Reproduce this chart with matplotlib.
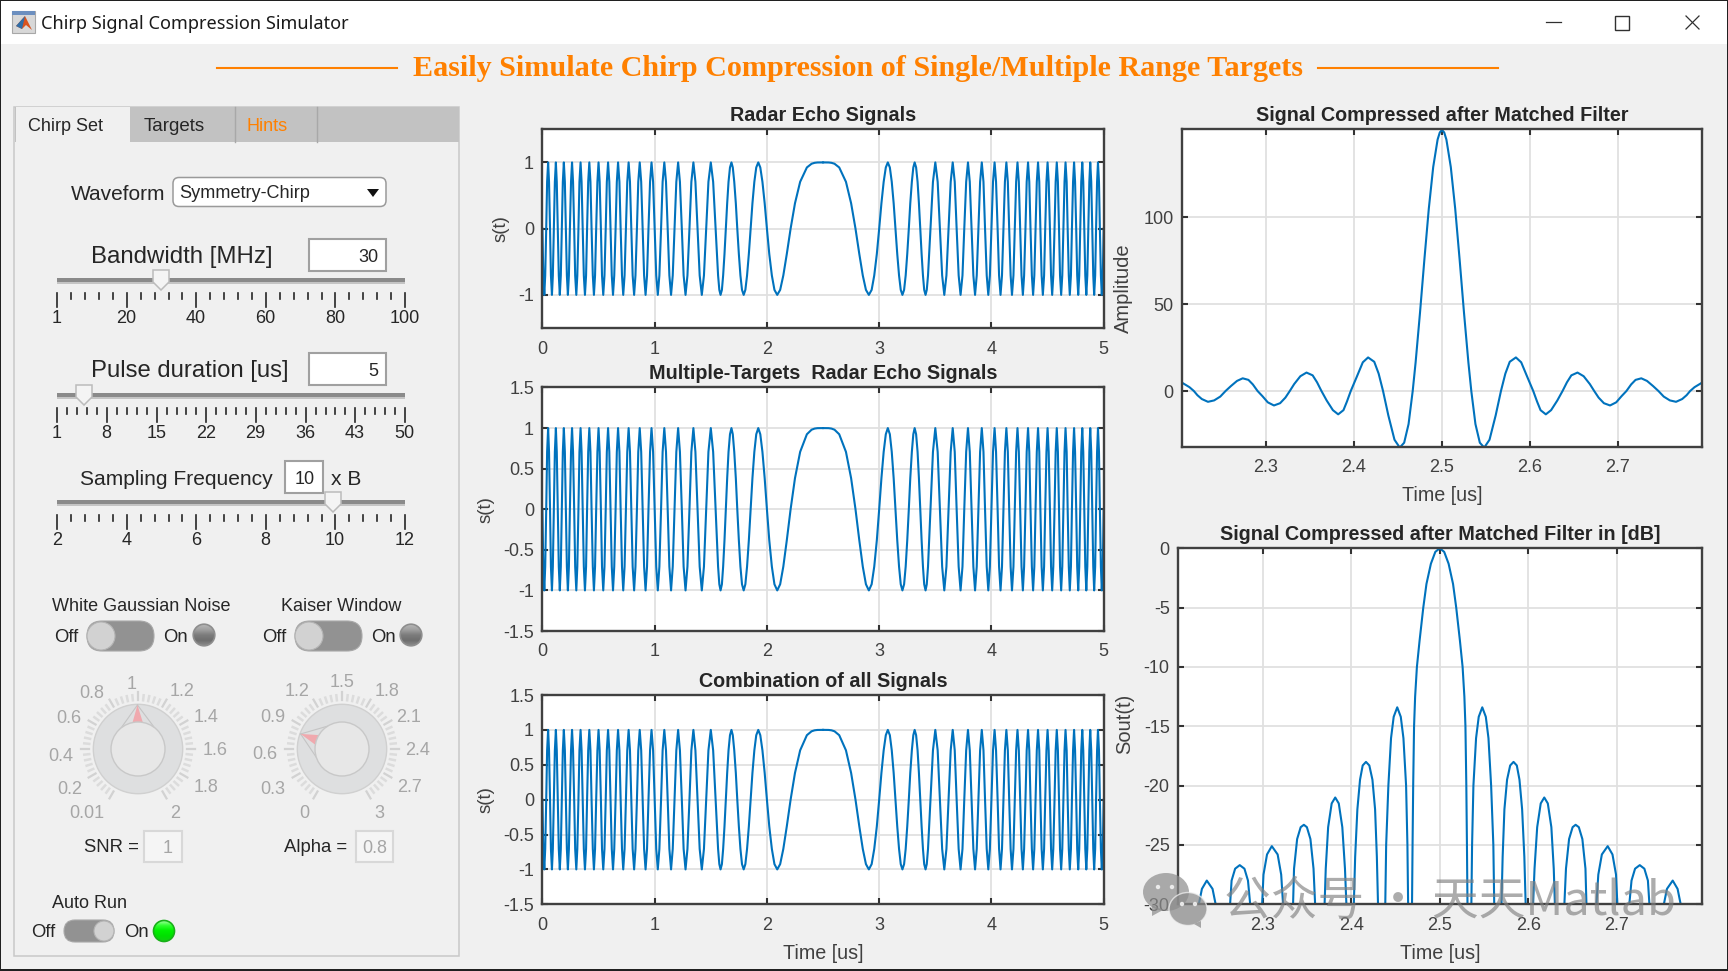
import numpy as np
import matplotlib
matplotlib.use("Agg")
import matplotlib.pyplot as plt
from matplotlib.colors import LinearSegmentedColormap
from matplotlib.patches import Circle, Ellipse, FancyBboxPatch, Polygon, Rectangle

plt.rcParams["font.family"] = ["Liberation Sans", "DejaVu Sans"]
plt.rcParams["axes.unicode_minus"] = False

W, H = 1728, 971

# echo signal, read outward from the pulse centre at 2.5 us
echo_t_right = [
    2.5, 2.55, 2.575, 2.602, 2.644, 2.704, 2.75, 2.789, 2.823, 2.854, 2.882, 2.908,
    2.933, 2.956, 2.979, 3.0, 3.02, 3.04, 3.059, 3.077,
    3.095, 3.112, 3.129, 3.145, 3.161, 3.177, 3.192, 3.207,
    3.222, 3.236, 3.25, 3.264, 3.277, 3.291, 3.304, 3.316,
    3.329, 3.342, 3.354, 3.366, 3.378, 3.39, 3.401, 3.413,
    3.424, 3.435,
    3.457, 3.479, 3.5, 3.521, 3.541, 3.561, 3.58, 3.599,
    3.618, 3.637, 3.655, 3.673, 3.69, 3.708, 3.725, 3.742,
    3.758, 3.775, 3.791, 3.807, 3.823, 3.839, 3.854, 3.869,
    3.884, 3.899, 3.914,
    3.929, 3.943, 3.958, 3.972, 3.986, 4.0, 4.014, 4.028,
    4.041, 4.055, 4.068, 4.081, 4.094, 4.107, 4.12, 4.133,
    4.146, 4.158, 4.171, 4.183, 4.196, 4.208, 4.22, 4.232,
    4.244, 4.256, 4.268, 4.28, 4.291, 4.303, 4.314, 4.326,
    4.337, 4.348, 4.36, 4.371, 4.382, 4.393, 4.404, 4.415,
    4.426, 4.436, 4.447, 4.458, 4.469, 4.479, 4.49, 4.5,
    4.51, 4.521, 4.531, 4.541, 4.551, 4.562, 4.572, 4.582,
    4.592, 4.602, 4.611, 4.621, 4.631, 4.641, 4.651, 4.66,
    4.67, 4.679, 4.689, 4.698, 4.708, 4.717, 4.727, 4.736,
    4.745, 4.755, 4.764, 4.773, 4.782, 4.791, 4.8, 4.809,
    4.818, 4.827, 4.836, 4.845, 4.854, 4.863, 4.872, 4.88,
    4.889, 4.898, 4.907, 4.915, 4.924, 4.932, 4.941, 4.949,
    4.958, 4.966, 4.975, 4.983, 4.992, 5.0,
]
echo_t_left = [
    2.5, 2.45, 2.425, 2.398, 2.356, 2.296, 2.25, 2.211, 2.177, 2.146, 2.118, 2.092,
    2.067, 2.044, 2.021, 2.0, 1.98, 1.96, 1.941, 1.923,
    1.905, 1.888, 1.871, 1.855, 1.839, 1.823, 1.808, 1.793,
    1.778, 1.764, 1.75, 1.736, 1.723, 1.709, 1.696, 1.684,
    1.671, 1.658, 1.646, 1.634, 1.622, 1.61, 1.599, 1.587,
    1.576, 1.565,
    1.543, 1.521, 1.5, 1.479, 1.459, 1.439, 1.42, 1.401,
    1.382, 1.363, 1.345, 1.327, 1.31, 1.292, 1.275, 1.258,
    1.242, 1.225, 1.209, 1.193, 1.177, 1.161, 1.146, 1.131,
    1.116, 1.101, 1.086,
    1.071, 1.057, 1.042, 1.028, 1.014, 1.0, 0.986, 0.972,
    0.959, 0.945, 0.932, 0.919, 0.906, 0.893, 0.88, 0.867,
    0.854, 0.842, 0.829, 0.817, 0.804, 0.792, 0.78, 0.768,
    0.756, 0.744, 0.732, 0.72, 0.709, 0.697, 0.686, 0.674,
    0.663, 0.652, 0.64, 0.629, 0.618, 0.607, 0.596, 0.585,
    0.574, 0.564, 0.553, 0.542, 0.531, 0.521, 0.51, 0.5,
    0.49, 0.479, 0.469, 0.459, 0.449, 0.438, 0.428, 0.418,
    0.408, 0.398, 0.389, 0.379, 0.369, 0.359, 0.349, 0.34,
    0.33, 0.321, 0.311, 0.302, 0.292, 0.283, 0.273, 0.264,
    0.255, 0.245, 0.236, 0.227, 0.218, 0.209, 0.2, 0.191,
    0.182, 0.173, 0.164, 0.155, 0.146, 0.137, 0.128, 0.12,
    0.111, 0.102, 0.093, 0.085, 0.076, 0.068, 0.059, 0.051,
    0.042, 0.034, 0.025, 0.017, 0.008, 0.0,
]
echo_s = [
    1, 0.999, 0.994, 0.98, 0.924, 0.707, 0.383, 0, -0.383, -0.707, -0.924, -1,
    -0.924, -0.707, -0.383, 0, 0.383, 0.707, 0.924, 1,
    0.924, 0.707, 0.383, 0, -0.383, -0.707, -0.924, -1,
    -0.924, -0.707, -0.383, 0, 0.383, 0.707, 0.924, 1,
    0.924, 0.707, 0.383, 0, -0.383, -0.707, -0.924, -1,
    -0.924, -0.707,
    0, 0.707, 1, 0.707, 0, -0.707, -1, -0.707,
    0, 0.707, 1, 0.707, 0, -0.707, -1, -0.707,
    0, 0.707, 1, 0.707, 0, -0.707, -1, -0.707,
    0, 0.707, 1,
    0.707, 0, -0.707, -1, -0.707, 0, 0.707, 1,
    0.707, 0, -0.707, -1, -0.707, 0, 0.707, 1,
    0.707, 0, -0.707, -1, -0.707, 0, 0.707, 1,
    0.707, 0, -0.707, -1, -0.707, 0, 0.707, 1,
    0.707, 0, -0.707, -1, -0.707, 0, 0.707, 1,
    0.707, 0, -0.707, -1, -0.707, 0, 0.707, 1,
    0.707, 0, -0.707, -1, -0.707, 0, 0.707, 1,
    0.707, 0, -0.707, -1, -0.707, 0, 0.707, 1,
    0.707, 0, -0.707, -1, -0.707, 0, 0.707, 1,
    0.707, 0, -0.707, -1, -0.707, 0, 0.707, 1,
    0.707, 0, -0.707, -1, -0.707, 0, 0.707, 1,
    0.707, 0, -0.707, -1, -0.707, 0, 0.707, 1,
    0.707, 0, -0.707, -1, -0.707, 0,
]

# compressed pulse, amplitude
comp_t_right = [
    2.5, 2.5025, 2.505, 2.51, 2.515, 2.52, 2.525, 2.53, 2.5333,
    2.538, 2.543, 2.548, 2.554, 2.561, 2.567,
    2.572, 2.577, 2.584, 2.59, 2.597, 2.6037,
    2.608, 2.612, 2.618, 2.624, 2.631, 2.637,
    2.642, 2.647, 2.654, 2.661, 2.668, 2.673,
    2.678, 2.684, 2.691, 2.698, 2.704, 2.7096,
    2.715, 2.72, 2.7265, 2.733, 2.74, 2.746,
    2.752, 2.759, 2.766, 2.773, 2.778, 2.782,
    2.787, 2.7955,
]
comp_t_left = [
    2.5, 2.4975, 2.495, 2.49, 2.485, 2.48, 2.475, 2.47, 2.4667,
    2.462, 2.457, 2.452, 2.446, 2.439, 2.433,
    2.428, 2.423, 2.416, 2.41, 2.403, 2.3963,
    2.392, 2.388, 2.382, 2.376, 2.369, 2.363,
    2.358, 2.353, 2.346, 2.339, 2.332, 2.327,
    2.322, 2.316, 2.309, 2.302, 2.296, 2.2904,
    2.285, 2.28, 2.2735, 2.267, 2.26, 2.254,
    2.248, 2.241, 2.234, 2.227, 2.222, 2.218,
    2.213, 2.2045,
]
comp_amp = [
    150, 148.6, 144.5, 128.7, 104.8, 75.7, 45, 16.4, 0,
    -19, -29.7, -32.5, -28, -14, 0,
    10, 16.8, 19.3, 16.5, 8, 0,
    -6, -11, -13.4, -11, -5.5, 0,
    5, 9, 10.6, 8.5, 4, 0,
    -3.8, -7, -8.3, -6.5, -3, 0,
    3.8, 6.4, 7.3, 5.8, 2.8, 0,
    -3.2, -5.4, -6.2, -4.6, -2.4, 0,
    2.2, 4.8,
]

# compressed pulse in dB, the nulls fall below the axis
db_t_right = [
    2.5, 2.505, 2.51, 2.515, 2.5186, 2.5228, 2.5258, 2.5278, 2.529, 2.53, 2.5307, 2.5313, 2.5333,
    2.5357, 2.5365, 2.538, 2.541, 2.544, 2.548, 2.552, 2.555, 2.558, 2.5605, 2.5615, 2.5655,
    2.5697, 2.571, 2.573, 2.576, 2.5795, 2.5833, 2.587, 2.59, 2.593, 2.5955, 2.597, 2.601,
    2.6054, 2.607, 2.61, 2.614, 2.618, 2.622, 2.626, 2.6287, 2.63, 2.6355,
    2.6407, 2.6425, 2.646, 2.65, 2.6534, 2.657, 2.661, 2.6645, 2.6656, 2.671,
    2.6769, 2.679, 2.683, 2.6896, 2.695, 2.699, 2.7005, 2.707,
    2.714, 2.7165, 2.7205, 2.7258, 2.731, 2.735, 2.7367, 2.745,
    2.753, 2.7565, 2.763, 2.7685, 2.772, 2.778,
]
db_t_left = [
    2.5, 2.495, 2.49, 2.485, 2.4814, 2.4772, 2.4742, 2.4722, 2.471, 2.47, 2.4693, 2.4687, 2.4667,
    2.4643, 2.4635, 2.462, 2.459, 2.456, 2.452, 2.448, 2.445, 2.442, 2.4395, 2.4385, 2.4345,
    2.4303, 2.429, 2.427, 2.424, 2.4205, 2.4167, 2.413, 2.41, 2.407, 2.4045, 2.403, 2.399,
    2.3946, 2.393, 2.39, 2.386, 2.382, 2.378, 2.374, 2.3713, 2.37, 2.3645,
    2.3593, 2.3575, 2.354, 2.35, 2.3466, 2.343, 2.339, 2.3355, 2.3344, 2.329,
    2.3231, 2.321, 2.317, 2.3104, 2.305, 2.301, 2.2995, 2.293,
    2.286, 2.2835, 2.2795, 2.2742, 2.269, 2.265, 2.2633, 2.255,
    2.247, 2.2435, 2.237, 2.2315, 2.228, 2.222,
]
db_values = [
    0, -0.3, -1.3, -3, -5, -7.8, -10, -12.5, -15, -20, -25, -30, -45,
    -30, -25, -20, -16, -14.2, -13.4, -14.2, -16, -20, -25, -30, -45,
    -30, -26, -22, -19.5, -18.3, -18, -18.3, -19.5, -22, -26, -30, -45,
    -30, -27, -23.5, -21.5, -21, -21.5, -23.5, -27, -30, -45,
    -30, -27, -24.5, -23.5, -23.3, -23.5, -24.5, -27, -30, -45,
    -30, -27.5, -25.8, -25.1, -25.8, -27.5, -30, -45,
    -30, -28, -27, -26.7, -27, -28, -30, -45,
    -30, -28.7, -28, -28.7, -30, -45,
]

time_ticks = [0, 1, 2, 3, 4, 5]
half_ticks = [-1.5, -1, -0.5, 0, 0.5, 1, 1.5]
half_labels = ["-1.5", "-1", "-0.5", "0", "0.5", "1", "1.5"]
zoom_ticks = [2.3, 2.4, 2.5, 2.6, 2.7]

bandwidth_major = [1, 20, 40, 60, 80, 100]
pulse_major = [1, 8, 15, 22, 29, 36, 43, 50]
sampling_major = [2, 4, 6, 8, 10, 12]
snr_labels = ["0.01", "0.2", "0.4", "0.6", "0.8", "1", "1.2", "1.4", "1.6", "1.8", "2"]
alpha_labels = ["0", "0.3", "0.6", "0.9", "1.2", "1.5", "1.8", "2.1", "2.4", "2.7", "3"]

BG = "#F0F0F0"
ORANGE = "#FF8000"
BLUE = "#0072BD"
DARK = "#262626"
AXTEXT = "#404040"
FAINT = "#A6A6A6"

fig = plt.figure(figsize=(W / 100, H / 100), dpi=100, facecolor=BG)
ui = fig.add_axes([0, 0, 1, 1], zorder=0)
ui.set_xlim(0, W)
ui.set_ylim(H, 0)
ui.axis("off")


def label(x, y, s, size=13, color=DARK, ha="center", **kw):
    ui.text(x, y + 1.5, s, fontsize=size, color=color, ha=ha, va="center", **kw)


def rect(x0, y0, x1, y1, face, edge="none", lw=0, z=1):
    ui.add_patch(Rectangle((x0, y0), x1 - x0, y1 - y0, fc=face, ec=edge, lw=lw, zorder=z))


def slider(track_y, major, thumb_x, n_minor=4):
    x0, x1 = 57.3, 405
    step = (x1 - x0) / (len(major) - 1)
    rect(x0 - 0.5, track_y - 2.5, x1, track_y + 1, "#8A8A8A")
    rect(x0 - 0.5, track_y + 1, x1, track_y + 3, "#C4C4C4")
    top = track_y + 12
    for i, v in enumerate(major):
        xv = x0 + i * step
        ui.plot([xv, xv], [top, top + 14], color=DARK, lw=1.2, zorder=2)
        label(xv - 0.5, top + 24, str(v), 13)
        if i < len(major) - 1:
            for k in range(1, n_minor + 1):
                xm = xv + k * step / (n_minor + 1)
                ui.plot([xm, xm], [top, top + 6.5], color=DARK, lw=1.2, zorder=2)
    ui.add_patch(Polygon([(thumb_x - 8, track_y - 11), (thumb_x + 8, track_y - 11), (thumb_x + 8, track_y + 1),
                          (thumb_x, track_y + 9), (thumb_x - 8, track_y + 1)],
                         fc="#F4F4F4", ec="#BBBBBB", lw=1.1, zorder=3))


def edit_box(x0, y0, x1, y1, s, text_x, edge="#A0A0A0", face="white", color=DARK, ha="right"):
    rect(x0, y0, x1, y1, face, edge, 1.5)
    label(text_x, (y0 + y1) / 2 + 0.5, s, 13, color, ha=ha, zorder=3)


def toggle(x0, x1, y0, y1, knob_x):
    h = y1 - y0
    ui.add_patch(FancyBboxPatch((x0, y0), x1 - x0, h, boxstyle=f"round,pad=0,rounding_size={h / 2}",
                                fc="#929292", ec="#A8A8A8", lw=0.8, zorder=2))
    ui.add_patch(Circle((knob_x, (y0 + y1) / 2), h / 2 - 1, fc="#D2D2D2", ec="#B4B4B4", lw=0.8, zorder=3))


def lamp(x, y, r, rim, colors):
    cmap = LinearSegmentedColormap.from_list("lamp", colors)
    im = ui.imshow(np.linspace(0, 1, 32).reshape(-1, 1), cmap=cmap, aspect="auto", zorder=3,
                   extent=[x - r, x + r, y + r, y - r])
    disc = Circle((x, y), r, fc="none", ec=rim, lw=1.2, zorder=4)
    ui.add_patch(disc)
    im.set_clip_path(disc)
    ui.set_xlim(0, W)
    ui.set_ylim(H, 0)


def knob(cx, cy, labels, label_xy, pointer_deg):
    for i in range(51):
        deg = 240 - i * 6
        a = np.radians(deg)
        major = i % 5 == 0
        r0, r1 = (49, 57) if major else (49, 54)
        ui.plot([cx + r0 * np.cos(a), cx + r1 * np.cos(a)], [cy - r0 * np.sin(a), cy - r1 * np.sin(a)],
                color="#D2D2D2" if major else "#DCDCDC", lw=1.6 if major else 1.8, zorder=2)
    ui.add_patch(Circle((cx, cy), 44.7, fc="#DEDFE0", ec="#D0D0D0", lw=1, zorder=2))
    a = np.radians(pointer_deg)
    tip = (cx + 44 * np.cos(a), cy - 44 * np.sin(a))
    for d in (52, -52):
        b = a + np.radians(d)
        ui.plot([tip[0], cx + 26 * np.cos(b)], [tip[1], cy - 26 * np.sin(b)], color="#C4C4C4", lw=0.8, zorder=3)
    base = []
    for d in (11, -11):
        b = a + np.radians(d)
        base.append((cx + 27 * np.cos(b), cy - 27 * np.sin(b)))
    ui.add_patch(Polygon([tip] + base, fc="#F0A9AE", ec="none", zorder=3))
    ui.add_patch(Circle((cx, cy), 27, fc="#E7E7E7", ec="#C8C8C8", lw=1, zorder=4))
    for s, (x, y) in zip(labels, label_xy):
        label(x, y, s, 13, FAINT)


# window frame
rect(0, 0, W, 44.5, "white")
rect(0, 0, W, 1.2, "#202020", z=6)
rect(0, 0, 1.2, H, "#202020", z=6)
rect(W - 1, 0, W, H, "#202020", z=6)
rect(0, 969, W, H, "#202020", z=6)
rect(12, 11, 35, 33, "#D8D8D8", "#A8A8A8", 0.8)
rect(12, 11, 35, 15, "#6C8FBF")
ui.add_patch(Polygon([(16, 26), (25, 16), (32, 30), (26, 25), (22, 29)], fc="#D9531E", zorder=2))
ui.add_patch(Polygon([(16, 26), (25, 16), (22, 29)], fc="#2F6EA8", zorder=2))
ui.text(41, 24, "Chirp Signal Compression Simulator", fontsize=13.1, family="Noto Sans",
        color="#1A1A1A", va="center")
ui.plot([1546, 1561], [22, 22], color="#303030", lw=0.9)
rect(1615, 16, 1629, 30, "none", "#303030", 1.0)
ui.plot([1686, 1699], [16, 29], color="#303030", lw=0.9)
ui.plot([1686, 1699], [29, 16], color="#303030", lw=0.9)

# banner
ui.plot([217, 397], [68, 68], color=ORANGE, lw=1.5)
ui.plot([1318, 1498], [68, 68], color=ORANGE, lw=1.5)
ui.text(858, 68, "Easily Simulate Chirp Compression of Single/Multiple Range Targets",
        fontsize=21.7, family="Liberation Serif", fontweight="bold", color=ORANGE, ha="center", va="center")

# tab panel
rect(14, 107, 459, 956, BG, "#C8C8C8", 1.1)
rect(15, 107, 459, 142, "#C2C2C2", z=2)
rect(15.5, 107, 130, 144, BG, z=2)
ui.plot([234.5, 234.5], [107, 142], color="#A8A8A8", lw=1, zorder=2)
ui.plot([316.5, 316.5], [107, 142], color="#A8A8A8", lw=1, zorder=2)
label(66, 125, "Chirp Set", 13, zorder=3)
label(174, 125, "Targets", 13.5, zorder=3)
label(267, 125, "Hints", 13, ORANGE, zorder=3)

label(118, 193, "Waveform", 15)
ui.add_patch(FancyBboxPatch((173, 177.5), 213, 29, boxstyle="round,pad=0,rounding_size=6",
                            fc="white", ec="#9A9A9A", lw=1.1, zorder=2))
label(179.5, 191.5, "Symmetry-Chirp", 13.1, ha="left", zorder=3)
ui.add_patch(Polygon([(367, 189), (379, 189), (373, 197)], fc="#111111", zorder=3))

label(182, 255.5, "Bandwidth [MHz]", 17.3)
edit_box(309, 239, 386, 271, "30", 378)
slider(281, bandwidth_major, 161)

label(190, 369, "Pulse duration [us]", 17.2)
edit_box(309, 353.5, 386, 385, "5", 378)
slider(396, pulse_major, 84)

label(176, 478, "Sampling Frequency", 15.1)
edit_box(285, 461, 323, 493, "10", 315)
label(331, 478, "x B", 15.1, ha="left")
slider(503, sampling_major, 333)

label(141.5, 605, "White Gaussian Noise", 13)
label(341, 605, "Kaiser Window", 13)
label(66, 636, "Off", 13.3)
label(175, 636, "On", 13.3)
label(274, 636, "Off", 13.3)
label(383, 636, "On", 13.3)
toggle(87, 154, 621, 651, 101)
toggle(295, 362, 621, 651, 309)
gray_lamp = ["#B8B8B8", "#A0A0A0", "#7C7C7C", "#6E6E6E", "#8C8C8C"]
lamp(204, 635, 10.8, "#8E8E8E", gray_lamp)
lamp(411, 635, 10.8, "#8E8E8E", gray_lamp)

knob(138, 749, snr_labels,
     [(87, 812), (70, 788), (61, 755), (69, 717), (92, 692), (132, 683),
      (182, 690), (206, 716), (215, 749), (206, 786), (175, 812)], 90.7)
knob(342, 749, alpha_labels,
     [(304, 812), (273, 788), (265, 753), (273, 716), (297, 690), (342, 681),
      (387, 690), (409, 716), (418, 749), (410, 786), (379, 812)], 160)

label(111.5, 846, "SNR =", 13.3)
edit_box(144, 831, 182, 862, "1", 173, "#D8D8D8", "#F5F5F5", FAINT)
label(315.5, 846, "Alpha =", 13.3)
edit_box(356, 831, 393, 862, "0.8", 375, "#D8D8D8", "#F5F5F5", FAINT, ha="center")

label(89, 902, "Auto Run", 13)
label(43, 931, "Off", 13.3)
label(136, 931, "On", 13.3)
toggle(64, 114, 920, 942, 104)
lamp(164, 931, 10.5, "#18B018", ["#A8FFA8", "#30FF30", "#00F000", "#00E000", "#10D010"])


def make_axes(left, top, right, bottom):
    ax = fig.add_axes([left / W, 1 - bottom / H, (right - left) / W, (bottom - top) / H], zorder=2)
    ax.set_facecolor("white")
    ax.grid(True, color="#E0E0E0", lw=1.3)
    ax.set_axisbelow(True)
    ax.tick_params(direction="in", length=4, width=1.5, top=True, right=True, color="#333333",
                   labelcolor=AXTEXT, labelsize=13)
    ax.tick_params(axis="x", pad=9)
    ax.tick_params(axis="y", pad=6)
    for s in ax.spines.values():
        s.set_color("#404040")
        s.set_linewidth(1.7)
    return ax


def echo_panel(box, title, yticks, ylabels, ylabel_x):
    ax = make_axes(*box)
    ax.plot(echo_t_left, echo_s, color=BLUE, lw=1.5)
    ax.plot(echo_t_right, echo_s, color=BLUE, lw=1.5)
    ax.set_xlim(0, 5)
    ax.set_ylim(-1.5, 1.5)
    ax.set_xticks(time_ticks)
    ax.set_yticks(yticks)
    ax.set_yticklabels(ylabels)
    ax.set_title(title, fontsize=14.25, fontweight="bold", color=DARK, pad=6)
    fig.text(ylabel_x / W, 1 - (box[1] + box[3]) / 2 / H, "s(t)", rotation=90, fontsize=13.5,
             color=AXTEXT, ha="center", va="center")
    return ax


echo_panel((542.4, 129.3, 1103.7, 328), "Radar Echo Signals", [-1, 0, 1], ["-1", "0", "1"], 501)
echo_panel((542.4, 387.5, 1103.7, 631), "Multiple-Targets  Radar Echo Signals", half_ticks, half_labels, 486)
ax3 = echo_panel((542.4, 695, 1103.7, 904.3), "Combination of all Signals", half_ticks, half_labels, 486)
ax3.set_xlabel("Time [us]", fontsize=14.2, color=AXTEXT, labelpad=7)

ax4 = make_axes(1182, 129.3, 1702, 446.7)
ax4.plot(comp_t_left, comp_amp, color=BLUE, lw=1.5)
ax4.plot(comp_t_right, comp_amp, color=BLUE, lw=1.5)
ax4.set_xlim(2.2045, 2.7955)
ax4.set_ylim(-32, 150.4)
ax4.set_xticks(zoom_ticks)
ax4.set_yticks([0, 50, 100])
ax4.set_title("Signal Compressed after Matched Filter", fontsize=14.25, fontweight="bold", color=DARK, pad=6)
ax4.set_xlabel("Time [us]", fontsize=14.2, color=AXTEXT, labelpad=7)
fig.text(1123 / W, 1 - 288 / H, "Amplitude", rotation=90, fontsize=14.5, color=AXTEXT, ha="center", va="center")

ax5 = make_axes(1178, 548.3, 1701.5, 904.3)
ax5.plot(db_t_left, db_values, color=BLUE, lw=1.5)
ax5.plot(db_t_right, db_values, color=BLUE, lw=1.5)
ax5.set_xlim(2.2045, 2.7955)
ax5.set_ylim(-30, 0)
ax5.set_xticks(zoom_ticks)
ax5.set_yticks([-30, -25, -20, -15, -10, -5, 0])
ax5.set_title("Signal Compressed after Matched Filter in [dB]", fontsize=14.25, fontweight="bold", color=DARK, pad=6)
ax5.set_xlabel("Time [us]", fontsize=14.2, color=AXTEXT, labelpad=7)
fig.text(1125 / W, 1 - 724 / H, "Sout(t)", rotation=90, fontsize=14.5, color=AXTEXT, ha="center", va="center")

# watermark sits over everything
mark = fig.add_axes([0, 0, 1, 1], zorder=5)
mark.set_xlim(0, W)
mark.set_ylim(H, 0)
mark.axis("off")
mark.patch.set_alpha(0)
mark.add_patch(Ellipse((1166, 892), 46, 38, fc="#8C8C8C", ec="none", alpha=0.7))
mark.add_patch(Polygon([(1152, 905), (1152, 916), (1163, 910)], fc="#8C8C8C", ec="none", alpha=0.7))
mark.add_patch(Ellipse((1188, 909), 38, 33, fc="#8C8C8C", ec="#F0F0F0", lw=1, alpha=0.75))
mark.add_patch(Polygon([(1194, 924), (1201, 928), (1201, 921)], fc="#8C8C8C", ec="none", alpha=0.75))
for ex, ey in [(1158, 887), (1172, 887), (1182, 904), (1195, 904)]:
    mark.add_patch(Circle((ex, ey), 2.2, fc="#F2F2F2", ec="none", alpha=0.9))
mark.text(1224, 902, "公众号 · 天天Matlab", fontsize=33.7, color="#808080", alpha=0.65,
          family=["Noto Sans CJK SC", "DejaVu Sans"], va="center", ha="left")

fig.savefig("out.png", dpi=100, facecolor=BG)
plt.close(fig)
